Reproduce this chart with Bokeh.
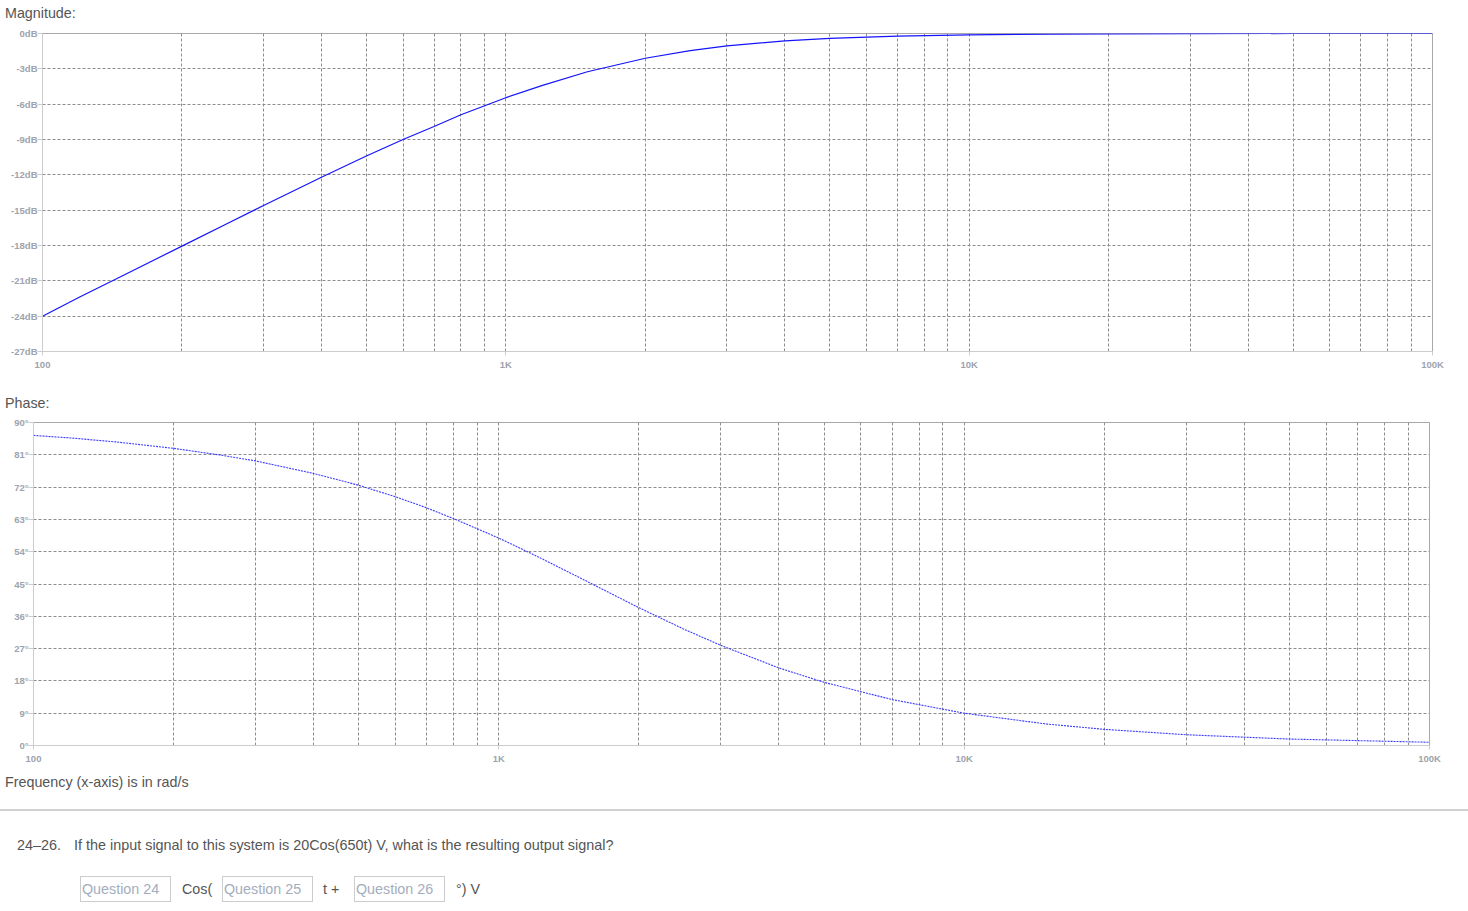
from bokeh.plotting import figure
from bokeh.models import Range1d, FixedTicker, Div
from bokeh.layouts import column
from bokeh.embed import file_html
from bokeh.resources import INLINE

# ---- data ----
freq = [100, 120, 150, 200, 250, 300, 400, 500, 600, 700, 800, 1000, 1200, 1500,
        2000, 2500, 3000, 4000, 5000, 7000, 10000, 15000, 20000, 30000, 50000, 100000]
mag_db = [-24.0, -22.4, -20.5, -18.05, -16.15, -14.6, -12.2, -10.4, -9.0, -7.9, -6.9,
          -5.45, -4.4, -3.25, -2.1, -1.45, -1.05, -0.63, -0.42, -0.22, -0.11, -0.05,
          -0.03, -0.01, 0.0, 0.0]
phase_deg = [86.4, 85.7, 84.6, 82.8, 81.0, 79.3, 75.8, 72.5, 69.3, 66.2, 63.2, 57.8,
             52.9, 46.6, 38.4, 32.4, 27.9, 21.6, 17.6, 12.8, 9.0, 6.0, 4.5, 3.0, 1.8, 0.9]

x_major = [100, 1000, 10000, 100000]
x_labels = ["100", "1K", "10K", "100K"]
x_grid = [100, 200, 300, 400, 500, 600, 700, 800, 900,
          1000, 2000, 3000, 4000, 5000, 6000, 7000, 8000, 9000,
          10000, 20000, 30000, 40000, 50000, 60000, 70000, 80000, 90000, 100000]
mag_ticks = [0, -3, -6, -9, -12, -15, -18, -21, -24, -27]
mag_labels = ["0dB", "-3dB", "-6dB", "-9dB", "-12dB", "-15dB", "-18dB", "-21dB", "-24dB", "-27dB"]
phase_ticks = [0, 9, 18, 27, 36, 45, 54, 63, 72, 81, 90]
phase_labels = ["0°", "9°", "18°", "27°", "36°", "45°", "54°", "63°", "72°", "81°", "90°"]

FONT = "'Liberation Sans', Arial, sans-serif"
TICK_COLOR = "#9ea3ad"


def make_fig(height, mb_top, mb_bottom, mb_left, mb_right, yticks, ylabels, yrange):
    p = figure(width=1452, height=height, x_axis_type="log",
               x_range=Range1d(100, 100000), y_range=Range1d(*yrange),
               output_backend="svg", toolbar_location=None,
               min_border_top=mb_top, min_border_bottom=mb_bottom,
               min_border_left=mb_left, min_border_right=mb_right,
               background_fill_color="white", border_fill_color="white",
               outline_line_color="#a8a8a8", outline_line_width=1,
               margin=(0, 0, 0, 0))
    try:
        p.frame_align = False
    except Exception:
        pass
    # x axis
    xa = p.xaxis[0]
    xa.ticker = FixedTicker(ticks=x_major)
    xa.major_label_overrides = {v: l for v, l in zip(x_major, x_labels)}
    xa.axis_line_color = "#cccccc"
    xa.major_tick_line_color = "#cccccc"
    xa.major_tick_out = 4
    xa.major_tick_in = 0
    xa.minor_tick_line_color = None
    xa.major_label_standoff = 3
    xa.major_label_text_font = FONT
    xa.major_label_text_font_size = "9.5px"
    xa.major_label_text_font_style = "bold"
    xa.major_label_text_color = TICK_COLOR
    # y axis
    ya = p.yaxis[0]
    ya.ticker = FixedTicker(ticks=yticks)
    ya.major_label_overrides = {v: l for v, l in zip(yticks, ylabels)}
    ya.axis_line_color = "#cccccc"
    ya.major_tick_line_color = "#cccccc"
    ya.major_tick_out = 5
    ya.major_tick_in = 0
    ya.minor_tick_line_color = None
    ya.major_label_standoff = 0
    ya.major_label_text_font = FONT
    ya.major_label_text_font_size = "9.5px"
    ya.major_label_text_font_style = "bold"
    ya.major_label_text_color = TICK_COLOR
    # grids
    p.xgrid.ticker = FixedTicker(ticks=x_grid)
    p.xgrid.grid_line_color = "#8c8c8c"
    p.xgrid.grid_line_dash = "3 2"
    p.xgrid.grid_line_width = 1
    p.ygrid.ticker = FixedTicker(ticks=yticks)
    p.ygrid.grid_line_color = "#8c8c8c"
    p.ygrid.grid_line_dash = "3 2"
    p.ygrid.grid_line_width = 1
    return p


p1 = make_fig(368, 9, 41, 33, 28, mag_ticks, mag_labels, (-27, 0))
p1.line(freq, mag_db, line_color="#1414ff", line_width=1.2)

p2 = make_fig(358, 10, 25, 25, 31, phase_ticks, phase_labels, (0, 90))
p2.line(freq, phase_deg, line_color="#3c3cff", line_width=1.1, line_dash="2 1")


def text_div(txt, height, top, left=-3, size=14.3):
    return Div(text=(f'<div style="position:relative;top:{top}px;left:{left}px;'
                     f'font-family:{FONT};font-size:{size}px;line-height:16px;'
                     f'color:#555555;white-space:nowrap">{txt}</div>'),
               width=1452, height=height, margin=(0, 0, 0, 0))


div1 = text_div("Magnitude:", 16, -3)
div2 = text_div("Phase:", 20, 3)
div3 = text_div("Frequency (x-axis) is in rad/s", 25, 4)

box = ("position:absolute;top:81px;height:26px;width:91px;box-sizing:border-box;"
       "border:1px solid #cccccc;color:#a3adbd;font-size:14.3px;line-height:24px;padding-left:1px;")
lab = "position:absolute;top:81px;line-height:26px;font-size:14.3px;color:#555555;"
div4_html = f'''
<div style="position:relative;width:1452px;height:105px;font-family:{FONT};">
  <div style="position:absolute;left:-8px;top:14px;width:1468px;height:0;border-top:2px solid #d0d0d0"></div>
  <div style="position:absolute;left:9px;top:42px;font-size:14.4px;line-height:16px;color:#555555;white-space:nowrap">24&#8211;26.</div>
  <div style="position:absolute;left:66px;top:42px;font-size:14.4px;line-height:16px;color:#555555;white-space:nowrap">If the input signal to this system is 20Cos(650t) V, what is the resulting output signal?</div>
  <div style="{box}left:72px;">Question 24</div>
  <div style="{lab}left:174px;">Cos(</div>
  <div style="{box}left:214px;">Question 25</div>
  <div style="{lab}left:315px;">t +</div>
  <div style="{box}left:346px;">Question 26</div>
  <div style="{lab}left:448px;">°) V</div>
</div>
'''
div4 = Div(text=div4_html, width=1452, height=105, margin=(0, 0, 0, 0))

layout = column(div1, p1, div2, p2, div3, div4, spacing=0, margin=(8, 0, 0, 8))

open("out.html", "w").write(file_html(layout, INLINE))
